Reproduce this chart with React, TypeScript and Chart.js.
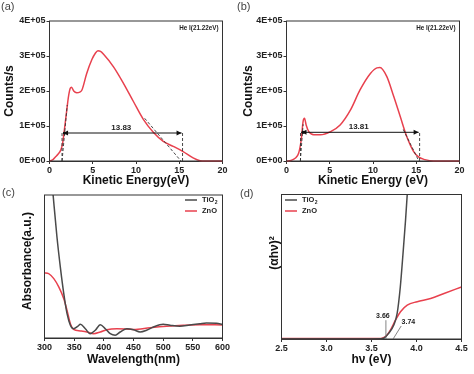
import React, { useEffect, useRef } from 'react';
import { Chart, registerables } from 'chart.js';
Chart.register(...registerables);

const FONT = '"Liberation Sans", Arial, Helvetica, sans-serif';
const RED = '#e8414e';
const GRAY = '#4a4a4a';
const AXIS = '#333333';
const W = 474;
const H = 374;

// ---- Panel (a): UPS spectrum, TiO2 ----
const aEnergy = [0, 0.4, 0.7, 1.0, 1.3, 1.5, 1.7, 2.0, 2.2, 2.4, 2.55, 2.8, 3.15, 3.5, 3.75, 4.3, 4.9, 5.3, 5.6, 5.9, 6.25, 7.4, 8.55, 9.7, 10.85, 12.0, 13.15, 14.3, 15.45, 16.6, 17.4, 18, 20];
const aCounts = [0, 4000, 12000, 20000, 31000, 48000, 85000, 146000, 185000, 208000, 211000, 200000, 195000, 197000, 203000, 250000, 290000, 308000, 315000, 313000, 305000, 269000, 222000, 170000, 119000, 82000, 56000, 42000, 27000, 9000, 1000, 0, 0];
const aWidthLabel = '13.83';

// ---- Panel (b): UPS spectrum, ZnO ----
const bEnergy = [0, 0.5, 1.0, 1.4, 1.7, 1.92, 2.08, 2.27, 2.58, 3.15, 3.9, 5.1, 6.2, 7.4, 8.5, 9.7, 10.45, 10.8, 11.6, 12.4, 13.15, 13.9, 14.7, 15.3, 16.0, 17.0, 20];
const bCounts = [0, 1500, 8000, 22000, 60000, 113000, 122000, 103000, 84000, 75000, 75000, 84000, 103000, 146000, 203000, 250000, 266000, 267000, 241000, 184000, 127000, 70000, 27000, 11000, 4000, 0, 0];
const bWidthLabel = '13.81';

const upsTicksY = [0, 100000, 200000, 300000, 400000];
const sourceLabel = 'He I(21.22eV)';

// ---- Panel (c): absorbance ----
const cWaveTiO2 = [305, 310, 314.5, 321, 327, 332.5, 338, 343.6, 349, 356, 360.4, 368.8, 377, 385.6, 394, 402.4, 410.8, 419.2, 427.6, 438.8, 450, 461, 472, 483.5, 500, 511.5, 528, 545, 562, 573, 590, 600];
const cAbsTiO2 = [145, 121, 100, 70.6, 48.5, 31, 17, 8.9, 6.5, 8.2, 9.6, 6.5, 3, 5.4, 9.3, 6.5, 3, 1.9, 4.2, 6.5, 5.8, 4.2, 5.4, 7.7, 9.6, 8.9, 8.2, 9.1, 10, 10.5, 10.3, 9.6];
const cWaveZnO = [300, 307, 315.7, 324, 332.5, 338, 343.6, 349, 360.4, 371.6, 382.8, 394, 405, 422, 450, 478, 506, 534, 562, 600];
const cAbsZnO = [45.5, 45, 41.5, 35.7, 27.5, 19.3, 10, 6, 4.9, 4.2, 3, 4.2, 5.8, 6.5, 6, 7.2, 8.2, 8.9, 9.3, 9.1];

// ---- Panel (d): Tauc plot ----
const dEnergyTiO2 = [2.5, 3.0, 3.5, 3.6, 3.636, 3.69, 3.748, 3.785, 3.82, 3.85, 3.878, 3.897, 3.93];
const dTaucTiO2 = [0, 0, 0, 0.1, 0.5, 3.9, 9.7, 17.7, 36, 59, 82, 100, 130];
const dEnergyZnO = [2.5, 3.0, 3.5, 3.606, 3.655, 3.71, 3.766, 3.822, 3.897, 4.008, 4.157, 4.306, 4.5];
const dTaucZnO = [0.3, 0.3, 0.3, 0.4, 1.6, 6.2, 13, 18.9, 23.5, 25.8, 28, 31.5, 36];
const dGapTiO2 = 3.66;
const dGapZnO = 3.74;

const seriesNames = ['TiO', 'ZnO'];

const pts = (xs: number[], ys: number[]) => xs.map((x, i) => ({ x, y: ys[i] }));

type Box = { left: number; top: number; right: number; bottom: number; yTitleX: number; xTitleY: number };

function line(ctx: CanvasRenderingContext2D, x1: number, y1: number, x2: number, y2: number) {
  ctx.beginPath();
  ctx.moveTo(x1, y1);
  ctx.lineTo(x2, y2);
  ctx.stroke();
}

function arrowHead(ctx: CanvasRenderingContext2D, x: number, y: number, dir: number) {
  ctx.beginPath();
  ctx.moveTo(x, y);
  ctx.lineTo(x - dir * 5, y - 2.5);
  ctx.lineTo(x - dir * 5, y + 2.5);
  ctx.closePath();
  ctx.fill();
}

function txt(ctx: CanvasRenderingContext2D, s: string, x: number, y: number, font: string, align: CanvasTextAlign = 'center', color = '#222') {
  ctx.font = font;
  ctx.fillStyle = color;
  ctx.textAlign = align;
  ctx.textBaseline = 'middle';
  ctx.fillText(s, x, y);
}

function legend(ctx: CanvasRenderingContext2D, x0: number, y0: number) {
  ctx.lineWidth = 1.5;
  const colors = [GRAY, RED];
  seriesNames.forEach((n, i) => {
    const y = y0 + i * 11;
    ctx.strokeStyle = colors[i];
    line(ctx, x0, y, x0 + 12, y);
    txt(ctx, n, x0 + 17, y, `bold 7.5px ${FONT}`, 'left');
    if (i === 0) {
      ctx.font = `bold 7.5px ${FONT}`;
      const w = ctx.measureText(n).width;
      txt(ctx, '2', x0 + 17 + w + 0.3, y + 2.5, `bold 5px ${FONT}`, 'left');
    }
  });
}

function makeConfig(opts: {
  box: Box;
  datasets: any[];
  xMin: number; xMax: number; xStep: number; xFmt: (v: number) => string;
  yMax: number; yStep?: number; yFmt?: (v: number) => string;
  xTitle: string; yTitle?: string;
  extra: (ctx: CanvasRenderingContext2D, xs: any, ys: any, area: any) => void;
}) {
  const { box } = opts;
  const off = 7.2;
  const padLeft = box.yTitleX - off;
  const yW = box.left - padLeft;
  const scaleBottom = box.xTitleY + off;
  const xH = scaleBottom - box.bottom;
  const tickFont = { family: FONT, size: 9, weight: 'bold' as const };
  const titleFont = { family: FONT, size: 12, weight: 'bold' as const };
  const grid = { display: true, drawOnChartArea: false, drawTicks: true, tickLength: 3, color: AXIS, lineWidth: 1 };
  const showY = !!opts.yFmt;
  return {
    type: 'line' as const,
    data: { datasets: opts.datasets },
    options: {
      responsive: false,
      animation: false as const,
      devicePixelRatio: 1,
      layout: { padding: { left: padLeft, top: box.top, right: W - box.right, bottom: H - scaleBottom } },
      plugins: { legend: { display: false }, tooltip: { enabled: false }, title: { display: false } },
      elements: { point: { radius: 0 } },
      scales: {
        x: {
          type: 'linear' as const,
          min: opts.xMin,
          max: opts.xMax,
          afterFit: (s: any) => { s.height = xH; },
          ticks: { stepSize: opts.xStep, callback: (v: any) => opts.xFmt(Number(v)), font: tickFont, color: '#222', padding: 1, maxRotation: 0, autoSkip: false },
          grid,
          border: { display: true, color: AXIS, width: 1 },
          title: { display: true, text: opts.xTitle, font: titleFont, color: '#111', padding: 0 },
        },
        y: {
          type: 'linear' as const,
          min: 0,
          max: opts.yMax,
          afterFit: (s: any) => { s.width = yW; },
          ticks: showY
            ? { stepSize: opts.yStep, callback: (v: any) => opts.yFmt!(Number(v)), font: tickFont, color: '#222', padding: 1 }
            : { display: false },
          grid: showY ? grid : { ...grid, drawTicks: false },
          border: { display: true, color: AXIS, width: 1 },
          title: opts.yTitle
            ? { display: true, text: opts.yTitle, font: titleFont, color: '#111', padding: 0 }
            : { display: false },
        },
      },
    },
    plugins: [
      {
        id: 'frameAndNotes',
        afterDatasetsDraw(chart: any) {
          const { ctx, chartArea: a } = chart;
          ctx.save();
          ctx.strokeStyle = AXIS;
          ctx.lineWidth = 1;
          ctx.strokeRect(a.left, a.top, a.right - a.left, a.bottom - a.top);
          opts.extra(ctx, chart.scales.x, chart.scales.y, a);
          ctx.restore();
        },
      },
    ],
  };
}

const upsFmt = (v: number) => (v === 0 ? '0E+00' : `${Math.round(v / 100000)}E+05`);

function upsExtra(label: string, panel: string, panelX: number, leftX: number, rightX: number, arrowY: number, labelX: number, labelY: number,
  tanL: number[][], tanR: number[][]) {
  return (ctx: CanvasRenderingContext2D, xs: any, ys: any, a: any) => {
    const px = (v: number) => xs.getPixelForValue(v);
    const py = (v: number) => ys.getPixelForValue(v);
    ctx.strokeStyle = '#333';
    ctx.lineWidth = 0.9;
    ctx.setLineDash([3, 2]);
    line(ctx, px(leftX), py(0), px(leftX), py(arrowY));
    line(ctx, px(rightX), py(0), px(rightX), py(arrowY));
    line(ctx, px(tanL[0][0]), py(tanL[0][1]), px(tanL[1][0]), py(tanL[1][1]));
    line(ctx, px(tanR[0][0]), py(tanR[0][1]), px(tanR[1][0]), py(tanR[1][1]));
    ctx.setLineDash([]);
    ctx.strokeStyle = '#111';
    ctx.fillStyle = '#111';
    ctx.lineWidth = 1;
    const x1 = px(leftX) + 1, x2 = px(rightX) - 1, y = py(arrowY);
    line(ctx, x1, y, x2, y);
    arrowHead(ctx, x1, y, -1);
    arrowHead(ctx, x2, y, 1);
    ctx.beginPath();
    ctx.arc(x1 + 1.5, y, 1.6, 0, Math.PI * 2);
    ctx.fill();
    txt(ctx, label, px(labelX), py(labelY), `bold 8px ${FONT}`);
    txt(ctx, sourceLabel, a.right - 4, a.top + 7.5, `bold 6.3px ${FONT}`, 'right');
    txt(ctx, panel, panelX, 7, `11px ${FONT}`, 'left', '#444');
  };
}

function buildA() {
  const box: Box = { left: 49.5, top: 21, right: 222.5, bottom: 161, yTitleX: 10, xTitleY: 181 };
  return makeConfig({
    box,
    datasets: [{ data: pts(aEnergy, aCounts), borderColor: RED, borderWidth: 1.5, cubicInterpolationMode: 'monotone', clip: 2 }],
    xMin: 0, xMax: 20, xStep: 5, xFmt: (v) => String(v),
    yMax: upsTicksY[upsTicksY.length - 1], yStep: upsTicksY[1], yFmt: upsFmt,
    xTitle: 'Kinetic Energy(eV)', yTitle: 'Counts/s',
    extra: upsExtra(aWidthLabel, '(a)', 1, 1.45, 15.38, 80000, 8.3, 96000, [[1.45, 0], [2.05, 160000]], [[11.0, 122000], [15.2, 0]]),
  });
}

function buildB() {
  const box: Box = { left: 286.5, top: 21, right: 459.5, bottom: 161, yTitleX: 249, xTitleY: 181 };
  return makeConfig({
    box,
    datasets: [{ data: pts(bEnergy, bCounts), borderColor: RED, borderWidth: 1.5, cubicInterpolationMode: 'monotone', clip: 2 }],
    xMin: 0, xMax: 20, xStep: 5, xFmt: (v) => String(v),
    yMax: upsTicksY[upsTicksY.length - 1], yStep: upsTicksY[1], yFmt: upsFmt,
    xTitle: 'Kinetic Energy (eV)', yTitle: 'Counts/s',
    extra: upsExtra(bWidthLabel, '(b)', 237, 1.62, 15.39, 82000, 8.35, 98000, [[1.6, 0], [1.92, 105000]], [[13.5, 90000], [15.3, 0]]),
  });
}

function buildC() {
  const box: Box = { left: 44.5, top: 195, right: 222.5, bottom: 338, yTitleX: 28, xTitleY: 360 };
  return makeConfig({
    box,
    datasets: [
      { data: pts(cWaveTiO2, cAbsTiO2), borderColor: GRAY, borderWidth: 1.5, cubicInterpolationMode: 'monotone', clip: { left: 0, top: 0, right: 0, bottom: 2 } },
      { data: pts(cWaveZnO, cAbsZnO), borderColor: RED, borderWidth: 1.5, cubicInterpolationMode: 'monotone', clip: { left: 0, top: 0, right: 0, bottom: 2 } },
    ],
    xMin: 300, xMax: 600, xStep: 50, xFmt: (v) => String(v),
    yMax: 100,
    xTitle: 'Wavelength(nm)',
    extra: (ctx, xs, ys, a) => {
      legend(ctx, 185, 200);
      ctx.save();
      ctx.translate(28, 261);
      ctx.rotate(-Math.PI / 2);
      txt(ctx, 'Absorbance(a.u.)', 0, 0, `bold 12px ${FONT}`, 'center', '#111');
      ctx.restore();
      txt(ctx, '(c)', 2, 193, `11px ${FONT}`, 'left', '#444');
    },
  });
}

function buildD() {
  const box: Box = { left: 281.5, top: 194.5, right: 461.5, bottom: 339, yTitleX: 275, xTitleY: 360 };
  return makeConfig({
    box,
    datasets: [
      { data: pts(dEnergyTiO2, dTaucTiO2), borderColor: GRAY, borderWidth: 1.5, cubicInterpolationMode: 'monotone', clip: { left: 0, top: 0, right: 0, bottom: 2 } },
      { data: pts(dEnergyZnO, dTaucZnO), borderColor: RED, borderWidth: 1.5, cubicInterpolationMode: 'monotone', clip: { left: 0, top: 0, right: 0, bottom: 2 } },
    ],
    xMin: 2.5, xMax: 4.5, xStep: 0.5, xFmt: (v) => v.toFixed(1),
    yMax: 100,
    xTitle: 'h\u03bd (eV)',
    extra: (ctx, xs, ys, a) => {
      const px = (v: number) => xs.getPixelForValue(v);
      const py = (v: number) => ys.getPixelForValue(v);
      ctx.strokeStyle = '#666';
      ctx.lineWidth = 0.8;
      line(ctx, px(dGapTiO2), py(0), px(dGapTiO2), py(13));
      line(ctx, px(dGapZnO), py(0), px(dGapZnO + 0.09), py(9));
      txt(ctx, dGapTiO2.toFixed(2), px(dGapTiO2) - 3, py(16), `bold 7px ${FONT}`);
      txt(ctx, dGapZnO.toFixed(2), px(dGapZnO + 0.17), py(11.5), `bold 7px ${FONT}`);
      legend(ctx, 285, 200);
      ctx.save();
      ctx.translate(275, 253);
      ctx.rotate(-Math.PI / 2);
      txt(ctx, '(\u03b1h\u03bd)\u00b2', 0, 0, `bold 12px ${FONT}`, 'center', '#111');
      ctx.restore();
      txt(ctx, '(d)', 240, 194, `11px ${FONT}`, 'left', '#444');
    },
  });
}

function Panel({ build }: { build: () => any }) {
  const ref = useRef<HTMLCanvasElement>(null);
  useEffect(() => {
    const chart = new Chart(ref.current as HTMLCanvasElement, build());
    return () => chart.destroy();
  }, [build]);
  return (
    <canvas
      ref={ref}
      width={W}
      height={H}
      style={{ position: 'absolute', left: 0, top: 0, width: W, height: H }}
    />
  );
}

export default function App() {
  return (
    <div style={{ position: 'absolute', left: 0, top: 0, width: W, height: H, background: '#fff', overflow: 'hidden' }}>
      <Panel build={buildA} />
      <Panel build={buildB} />
      <Panel build={buildC} />
      <Panel build={buildD} />
    </div>
  );
}
